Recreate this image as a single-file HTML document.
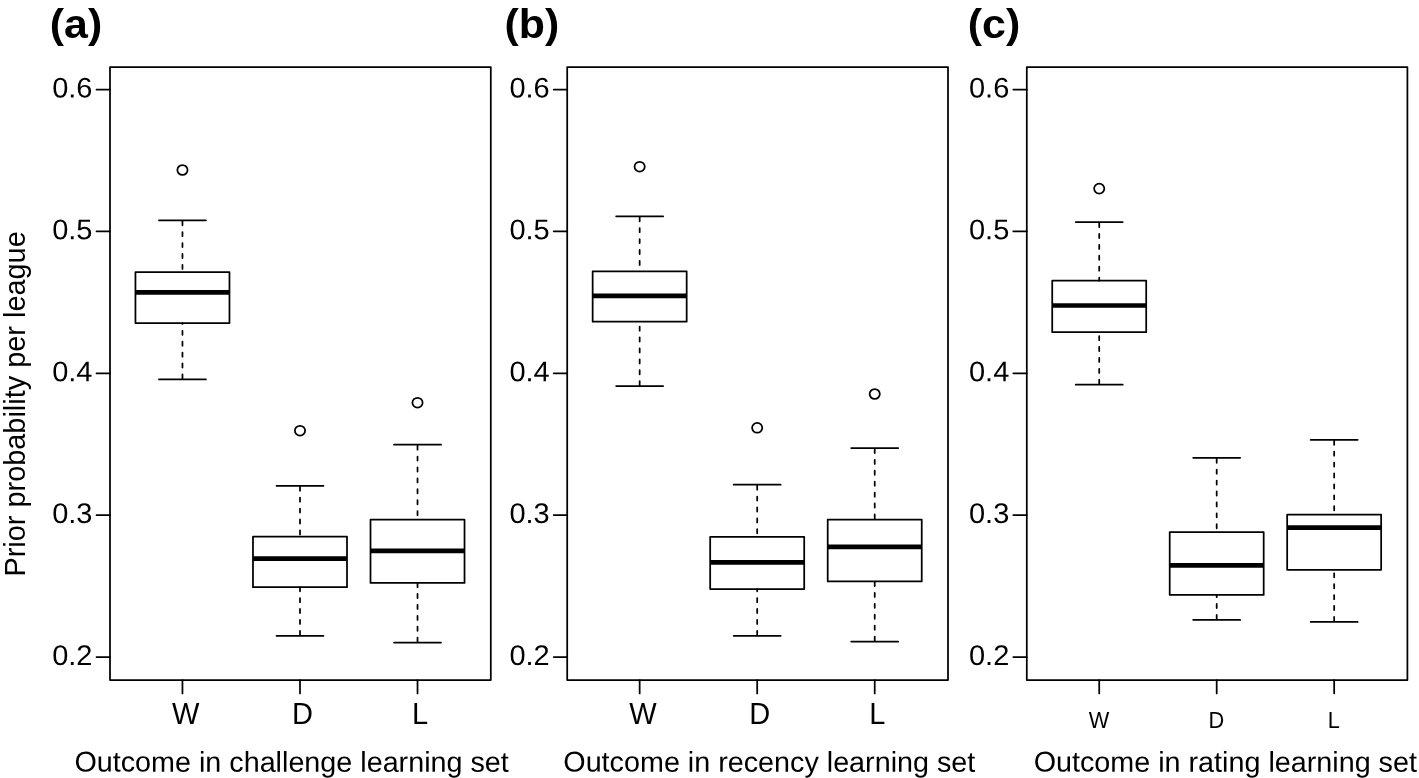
<!DOCTYPE html>
<html lang="en"><head><meta charset="utf-8"><title>Prior probability per league</title>
<style>html,body{margin:0;padding:0;background:#fff}svg{display:block}text{font-family:"Liberation Sans",Arial,Helvetica,sans-serif;fill:#000}</style></head><body>
<svg width="1419" height="778" viewBox="0 0 1419 778">
<rect width="1419" height="778" fill="#fff"/>
<text transform="translate(25 403.9) rotate(-90) scale(0.997 1)" font-size="29" text-anchor="middle">Prior probability per league</text>
<g fill="none" stroke="#000" stroke-width="1.75" stroke-linecap="round" stroke-linejoin="round">
<rect x="110.00" y="67.0" width="380.80" height="613.0"/>
<path d="M110.00 657.00H96.50"/>
<path d="M110.00 515.12H96.50"/>
<path d="M110.00 373.25H96.50"/>
<path d="M110.00 231.37H96.50"/>
<path d="M110.00 89.50H96.50"/>
<path d="M182.46 680.0V693.40"/>
<path d="M299.99 680.0V693.40"/>
<path d="M417.52 680.0V693.40"/>
<path stroke-dasharray="4.1 6.81" stroke-dashoffset="-0.9" d="M182.46 220.30V272.00M182.46 379.40V323.10"/>
<path d="M158.95 220.30H205.96M158.95 379.40H205.96"/>
<rect x="135.45" y="272.00" width="94.02" height="51.10"/>
<path stroke-linecap="butt" stroke-width="4.7" d="M135.45 292.30H229.47"/>
<ellipse cx="182.46" cy="170.00" rx="5.1" ry="4.95"/>
<path stroke-dasharray="4.1 6.81" stroke-dashoffset="-0.9" d="M299.99 485.80V536.50M299.99 635.80V587.20"/>
<path d="M276.48 485.80H323.49M276.48 635.80H323.49"/>
<rect x="252.98" y="536.50" width="94.02" height="50.70"/>
<path stroke-linecap="butt" stroke-width="4.7" d="M252.98 558.70H347.00"/>
<ellipse cx="299.99" cy="430.70" rx="5.1" ry="4.95"/>
<path stroke-dasharray="4.1 6.81" stroke-dashoffset="-0.9" d="M417.52 444.70V519.60M417.52 642.60V582.90"/>
<path d="M394.01 444.70H441.03M394.01 642.60H441.03"/>
<rect x="370.51" y="519.60" width="94.02" height="63.30"/>
<path stroke-linecap="butt" stroke-width="4.7" d="M370.51 550.80H464.53"/>
<ellipse cx="417.52" cy="402.70" rx="5.1" ry="4.95"/>
</g>
<text transform="translate(92.50 664.90) scale(1.021 1) rotate(0.03)" font-size="28.4" text-anchor="end">0.2</text>
<text transform="translate(92.50 523.02) scale(1.021 1) rotate(0.03)" font-size="28.4" text-anchor="end">0.3</text>
<text transform="translate(92.50 381.15) scale(1.021 1) rotate(0.03)" font-size="28.4" text-anchor="end">0.4</text>
<text transform="translate(92.50 239.27) scale(1.021 1) rotate(0.03)" font-size="28.4" text-anchor="end">0.5</text>
<text transform="translate(92.50 97.40) scale(1.021 1) rotate(0.03)" font-size="28.4" text-anchor="end">0.6</text>
<text transform="translate(185.66 724.00) scale(0.954 1) rotate(0.03)" font-size="30.4" text-anchor="middle">W</text>
<text transform="translate(302.39 724.00) scale(0.954 1) rotate(0.03)" font-size="30.4" text-anchor="middle">D</text>
<text transform="translate(420.02 724.00) scale(0.954 1) rotate(0.03)" font-size="30.4" text-anchor="middle">L</text>
<text transform="translate(291.60 771.70) scale(1.0085 1) rotate(0.03)" font-size="28.5" text-anchor="middle">Outcome in challenge learning set</text>
<text transform="translate(49.80 38.20) scale(1.073 1)" font-size="40" text-anchor="start" font-weight="bold">(a)</text>
<g fill="none" stroke="#000" stroke-width="1.75" stroke-linecap="round" stroke-linejoin="round">
<rect x="567.20" y="67.0" width="380.80" height="613.0"/>
<path d="M567.20 657.00H553.70"/>
<path d="M567.20 515.12H553.70"/>
<path d="M567.20 373.25H553.70"/>
<path d="M567.20 231.37H553.70"/>
<path d="M567.20 89.50H553.70"/>
<path d="M639.66 680.0V693.40"/>
<path d="M757.19 680.0V693.40"/>
<path d="M874.72 680.0V693.40"/>
<path stroke-dasharray="4.1 6.81" stroke-dashoffset="-0.9" d="M639.66 216.30V271.40M639.66 386.10V321.70"/>
<path d="M616.15 216.30H663.16M616.15 386.10H663.16"/>
<rect x="592.65" y="271.40" width="94.02" height="50.30"/>
<path stroke-linecap="butt" stroke-width="4.7" d="M592.65 295.80H686.67"/>
<ellipse cx="639.66" cy="166.70" rx="5.1" ry="4.95"/>
<path stroke-dasharray="4.1 6.81" stroke-dashoffset="-0.9" d="M757.19 484.70V536.80M757.19 635.80V589.00"/>
<path d="M733.68 484.70H780.69M733.68 635.80H780.69"/>
<rect x="710.18" y="536.80" width="94.02" height="52.20"/>
<path stroke-linecap="butt" stroke-width="4.7" d="M710.18 562.30H804.20"/>
<ellipse cx="757.19" cy="427.80" rx="5.1" ry="4.95"/>
<path stroke-dasharray="4.1 6.81" stroke-dashoffset="-0.9" d="M874.72 448.00V519.60M874.72 641.50V581.40"/>
<path d="M851.21 448.00H898.23M851.21 641.50H898.23"/>
<rect x="827.71" y="519.60" width="94.02" height="61.80"/>
<path stroke-linecap="butt" stroke-width="4.7" d="M827.71 546.80H921.73"/>
<ellipse cx="874.72" cy="394.00" rx="5.1" ry="4.95"/>
</g>
<text transform="translate(549.70 664.90) scale(1.021 1) rotate(0.03)" font-size="28.4" text-anchor="end">0.2</text>
<text transform="translate(549.70 523.02) scale(1.021 1) rotate(0.03)" font-size="28.4" text-anchor="end">0.3</text>
<text transform="translate(549.70 381.15) scale(1.021 1) rotate(0.03)" font-size="28.4" text-anchor="end">0.4</text>
<text transform="translate(549.70 239.27) scale(1.021 1) rotate(0.03)" font-size="28.4" text-anchor="end">0.5</text>
<text transform="translate(549.70 97.40) scale(1.021 1) rotate(0.03)" font-size="28.4" text-anchor="end">0.6</text>
<text transform="translate(642.86 724.00) scale(0.954 1) rotate(0.03)" font-size="30.4" text-anchor="middle">W</text>
<text transform="translate(759.59 724.00) scale(0.954 1) rotate(0.03)" font-size="30.4" text-anchor="middle">D</text>
<text transform="translate(877.22 724.00) scale(0.954 1) rotate(0.03)" font-size="30.4" text-anchor="middle">L</text>
<text transform="translate(769.30 771.70) scale(1.0085 1) rotate(0.03)" font-size="28.5" text-anchor="middle">Outcome in recency learning set</text>
<text transform="translate(504.50 38.20) scale(1.073 1)" font-size="40" text-anchor="start" font-weight="bold">(b)</text>
<g fill="none" stroke="#000" stroke-width="1.75" stroke-linecap="round" stroke-linejoin="round">
<rect x="1026.80" y="67.0" width="380.60" height="613.0"/>
<path d="M1026.80 657.00H1013.30"/>
<path d="M1026.80 515.12H1013.30"/>
<path d="M1026.80 373.25H1013.30"/>
<path d="M1026.80 231.37H1013.30"/>
<path d="M1026.80 89.50H1013.30"/>
<path d="M1099.22 680.0V693.40"/>
<path d="M1216.69 680.0V693.40"/>
<path d="M1334.16 680.0V693.40"/>
<path stroke-dasharray="4.1 6.81" stroke-dashoffset="-0.9" d="M1099.22 222.10V280.70M1099.22 384.70V332.20"/>
<path d="M1075.73 222.10H1122.71M1075.73 384.70H1122.71"/>
<rect x="1052.23" y="280.70" width="93.98" height="51.50"/>
<path stroke-linecap="butt" stroke-width="4.7" d="M1052.23 305.50H1146.21"/>
<ellipse cx="1099.22" cy="188.60" rx="5.1" ry="4.95"/>
<path stroke-dasharray="4.1 6.81" stroke-dashoffset="-0.9" d="M1216.69 457.80V532.00M1216.69 619.90V594.90"/>
<path d="M1193.20 457.80H1240.18M1193.20 619.90H1240.18"/>
<rect x="1169.70" y="532.00" width="93.98" height="62.90"/>
<path stroke-linecap="butt" stroke-width="4.7" d="M1169.70 565.40H1263.68"/>
<path stroke-dasharray="4.1 6.81" stroke-dashoffset="-0.9" d="M1334.16 439.80V514.60M1334.16 621.90V569.80"/>
<path d="M1310.66 439.80H1357.65M1310.66 621.90H1357.65"/>
<rect x="1287.17" y="514.60" width="93.98" height="55.20"/>
<path stroke-linecap="butt" stroke-width="4.7" d="M1287.17 527.60H1381.15"/>
</g>
<text transform="translate(1009.30 664.90) scale(1.021 1) rotate(0.03)" font-size="28.4" text-anchor="end">0.2</text>
<text transform="translate(1009.30 523.02) scale(1.021 1) rotate(0.03)" font-size="28.4" text-anchor="end">0.3</text>
<text transform="translate(1009.30 381.15) scale(1.021 1) rotate(0.03)" font-size="28.4" text-anchor="end">0.4</text>
<text transform="translate(1009.30 239.27) scale(1.021 1) rotate(0.03)" font-size="28.4" text-anchor="end">0.5</text>
<text transform="translate(1009.30 97.40) scale(1.021 1) rotate(0.03)" font-size="28.4" text-anchor="end">0.6</text>
<text transform="translate(1098.92 727.90) scale(0.933 1) rotate(0.03)" font-size="23.3" text-anchor="middle">W</text>
<text transform="translate(1216.39 727.90) scale(0.933 1) rotate(0.03)" font-size="23.3" text-anchor="middle">D</text>
<text transform="translate(1333.86 727.90) scale(0.933 1) rotate(0.03)" font-size="23.3" text-anchor="middle">L</text>
<text transform="translate(1225.30 771.70) scale(1.0085 1) rotate(0.03)" font-size="28.5" text-anchor="middle">Outcome in rating learning set</text>
<text transform="translate(967.80 38.20) scale(1.073 1)" font-size="40" text-anchor="start" font-weight="bold">(c)</text>
</svg></body></html>
